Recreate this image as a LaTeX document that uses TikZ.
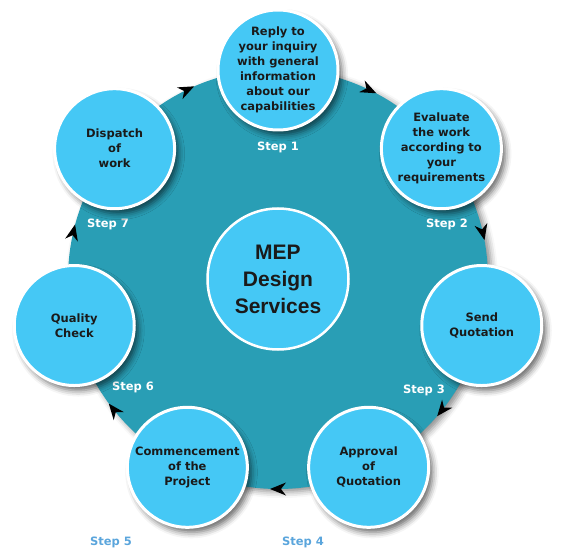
\documentclass[tikz,border=0pt]{standalone}
\usepackage{fontspec}
\newfontfamily\vfont{DejaVu Sans}
\newfontfamily\afont{Liberation Sans}
\usetikzlibrary{calc,shadows.blur}
\definecolor{tealbg}{RGB}{41,158,181}
\definecolor{cyanc}{RGB}{69,200,245}
\definecolor{txtc}{RGB}{26,26,26}
\definecolor{stepblue}{RGB}{90,165,220}
\tikzset{
  stepcirc/.style={circle, fill=cyanc, draw=white, line width=3pt, minimum size=120pt, inner sep=0pt,
    align=center, text=txtc, font=\vfont\bfseries\fontsize{11.5}{15}\selectfont,
    blur shadow={shadow xshift=4pt, shadow yshift=-5pt, shadow blur radius=6pt, shadow opacity=60}},
  hubcirc/.style={circle, fill=cyanc, draw=white, line width=2.5pt, minimum size=141pt, inner sep=0pt,
    align=center, text=txtc, font=\afont\bfseries\fontsize{21}{27}\selectfont},
  steplab/.style={font=\vfont\bfseries\fontsize{11.5}{13}\selectfont, text=white},
  steplabout/.style={steplab, text=stepblue},
  cwtip/.style={fill=black, draw=none}
}
\begin{document}
\begin{tikzpicture}[x=1pt,y=1pt]
\useasboundingbox (0,0) rectangle (571,558);
\coordinate (C) at (278,279);
% big teal disc
\fill[tealbg, blur shadow={shadow xshift=4pt, shadow yshift=-3pt, shadow blur radius=6pt, shadow opacity=45}] (C) circle (210);
% arrowheads on the rim (clockwise)
\foreach \m [count=\i] in {64.29,12.86,-38.57,-90,-141.43,167.14,115.71}{
  \coordinate (t\i) at ($(C)+(\m:210)$);
  \pgfmathsetmacro{\r}{\m-90}
  \fill[cwtip, shift={(t\i)}, rotate=\r] (8,0) -- (-8,6.5) -- (-3,0) -- (-8,-6.5) -- cycle;
}
% step labels
\node[steplab] (l1) at (278,411) {Step 1};
\node[steplab] (l2) at (447,334) {Step 2};
\node[steplab] (l3) at (424,168) {Step 3};
\node[steplabout] (l4) at (303,16) {Step 4};
\node[steplabout] (l5) at (111,16) {Step 5};
\node[steplab] (l6) at (133,171) {Step 6};
\node[steplab] (l7) at (108,334) {Step 7};
% step circles
\node[stepcirc] (s1) at ($(C)+(90:209)$) {Reply to\\your inquiry\\with general\\information\\about our\\capabilities};
\node[stepcirc] (s2) at ($(C)+(38.57:209)$) {Evaluate\\the work\\according to\\your\\requirements};
\node[stepcirc] (s3) at ($(C)+(-12.86:209)$) {Send\\Quotation};
\node[stepcirc] (s4) at ($(C)+(-64.29:209)$) {Approval\\of\\Quotation};
\node[stepcirc] (s5) at ($(C)+(-115.71:209)$) {Commencement\\of the\\Project};
\node[stepcirc] (s6) at ($(C)+(-167.14:209)$) {Quality\\Check};
\node[stepcirc] (s7) at ($(C)+(141.43:209)$) {Dispatch\\of\\work};
% hub
\node[hubcirc] (hub) at (C) {MEP\\Design\\Services};
\end{tikzpicture}
\end{document}
